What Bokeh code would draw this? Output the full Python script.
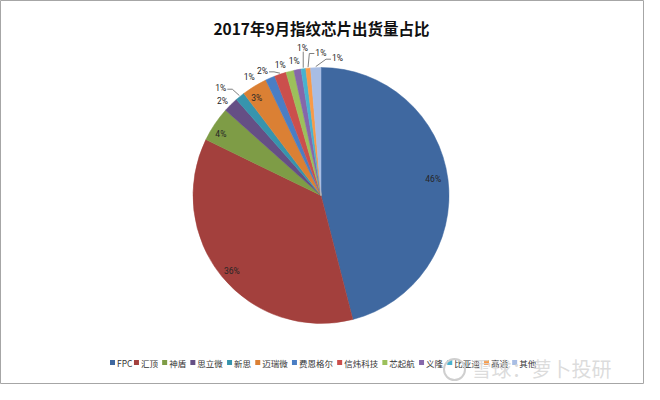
import math
from bokeh.plotting import figure
from bokeh.models import Range1d, ColumnDataSource
from bokeh.embed import file_html
from bokeh.resources import INLINE
from bokeh.core.properties import value

# ---------------- data ----------------
title_text = "2017年9月指纹芯片出货量占比"
vendors = ["FPC", "汇顶", "神盾", "思立微", "新思", "迈瑞微", "费恩格尔",
           "信炜科技", "芯起航", "义隆", "比亚迪", "高通", "其他"]
shares = [46.0, 36.2, 4.4, 1.9, 1.2, 3.2, 1.2, 1.5, 1.0, 0.9, 0.6, 0.6, 1.3]
watermark = "雪球：萝卜投研"

# ---------------- styles / layout ----------------
colors = ["#3F68A0", "#A3403D", "#7E9C46", "#654F85", "#3794AD", "#DB8034",
          "#4A7EC4", "#CB4F4C", "#9CC05B", "#8567AA", "#48B2CF", "#F99A47",
          "#A8BDE4"]
# label placement per slice: (inside?, angular shift in degrees clockwise, radius px)
label_layout = [(True, -1.4, 113.5), (True, -1.2, 117), (True, -2.3, 117.5),
                (False, -1.3, 136.6), (False, -3.8, 146.8), (True, -2.1, 116.6),
                (False, -7.8, 138.7), (False, -6.6, 137.7), (False, -3.3, 136.5),
                (False, -0.7, 136.7), (False, 0.8, 149), (False, 5.7, 143),
                (False, 9.2, 138.3)]
leaders = {"新思", "信炜科技", "比亚迪", "高通", "其他"}

W, H = 644, 384
def px(x):
    return x - 8
def py(y):
    return H - (y - 8)

cx, cy = px(328.5), py(203)
R = 128

p = figure(width=W, height=H, x_range=Range1d(0, W), y_range=Range1d(0, H),
           x_axis_type=None, y_axis_type=None, toolbar_location=None,
           output_backend="svg", min_border=0)
p.grid.visible = False
p.outline_line_color = "#A6A6A6"
p.outline_line_width = 1
p.background_fill_color = "white"
p.border_fill_color = "white"

# ---------------- pie ----------------
total = sum(shares)
starts, ends, mids = [], [], []
cum = 0.0
for s in shares:
    a0 = cum / total * 2 * math.pi
    cum += s
    a1 = cum / total * 2 * math.pi
    starts.append(math.pi / 2 - a0)
    ends.append(math.pi / 2 - a1)
    mids.append((a0 + a1) / 2)  # clockwise from top

src = ColumnDataSource(dict(x=[cx] * len(vendors), y=[cy] * len(vendors),
                            start=starts, end=ends, color=colors, name=vendors))
p.wedge(x="x", y="y", radius=R, start_angle="start", end_angle="end",
        direction="clock", fill_color="color", line_color="color",
        line_width=0.5, source=src)

# ---------------- data labels ----------------
lx, ly, lt = [], [], []
lead_xs, lead_ys = [], []
for name, s, m, (inside, shift, r) in zip(vendors, shares, mids, label_layout):
    th = m + math.radians(shift)
    x = cx + r * math.sin(th)
    y = cy + r * math.cos(th)
    lx.append(x)
    ly.append(y)
    lt.append(f"{round(s)}%")
    if name in leaders:
        ex = cx + (R + 1) * math.sin(m)
        ey = cy + (R + 1) * math.cos(m)
        if abs(ex - x) < 4:
            lead_xs.append([ex, ex])
            lead_ys.append([y - 4, ey])
        else:
            sgn = 1 if ex > x else -1
            sx = x + sgn * 6.5
            elx = sx + sgn * 5
            lead_xs.append([sx, elx, ex])
            lead_ys.append([y - 1, y - 1, ey])

p.multi_line(xs=lead_xs, ys=lead_ys, line_color="#808080", line_width=1)
p.text(x=lx, y=ly, text=lt, text_align="center", text_baseline="middle",
       text_font=value("Roboto"), text_font_size="8.5px", text_color="#262626")

# ---------------- title ----------------
p.text(x=[px(329)], y=[py(35.5)], text=[title_text], text_align="center",
       text_baseline="middle", text_font=value("Noto Sans CJK SC"),
       text_font_size="15.5px", text_font_style="bold", text_color="#111111")

# ---------------- legend (manual) ----------------
def text_w(t, fs):
    w = 0.0
    for ch in t:
        w += fs if ord(ch) > 0x2E80 else fs * 0.5
    return w

fs = 8.5
x0 = px(117.5)
ly0 = py(370)
sq_x, sq_y, tx, ty = [], [], [], []
for name in vendors:
    sq_x.append(x0 + 2.5)
    sq_y.append(ly0)
    tx.append(x0 + 7)
    ty.append(ly0)
    x0 += 7 + text_w(name, fs) + 4.2

p.rect(x=sq_x, y=sq_y, width=5, height=5, fill_color=colors, line_color=None)
p.text(x=tx, y=ty, text=vendors, text_align="left", text_baseline="middle",
       text_font=value("Noto Sans CJK SC"), text_font_size=f"{fs}px",
       text_color="#333333")

# ---------------- watermark ----------------
p.scatter(x=[px(462)], y=[py(377)], size=21, marker="circle",
          fill_color=None, line_color="#cfcfcf", line_width=2)
p.text(x=[px(479)], y=[py(376)], text=[watermark], text_align="left",
       text_baseline="middle", text_font=value("Noto Sans CJK SC"),
       text_font_size="20px", text_color="#d6d6d6", text_alpha=0.85)

open("out.html", "w").write(file_html(p, INLINE))
